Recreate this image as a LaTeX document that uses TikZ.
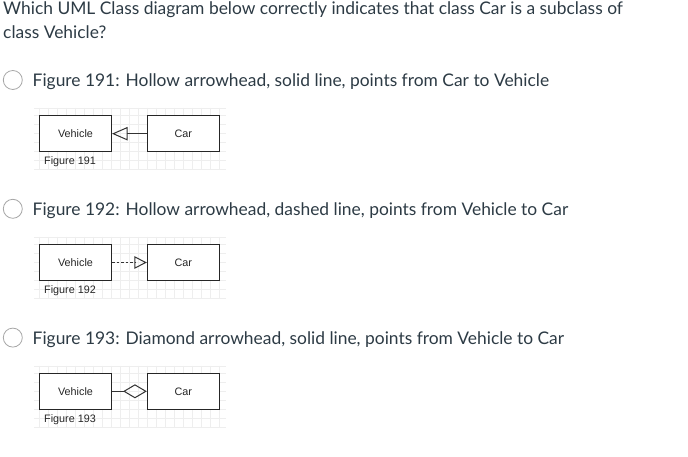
\documentclass[tikz,border=0pt]{standalone}
\usepackage{fontspec}
\setmainfont{Lato}
\newfontfamily\arialfont{Liberation Sans}
\usetikzlibrary{arrows.meta}
\definecolor{canvastext}{HTML}{2D3B45}
\begin{document}
\begin{tikzpicture}[x=1pt,y=-1pt,
  qtext/.style={anchor=base west,inner sep=0,text=canvastext,font=\fontsize{17.4}{20}\selectfont},
  radio/.style={circle,draw=gray!70,line width=0.8pt,minimum size=19pt,inner sep=0},
  umlbox/.style={draw=black!85,line width=1pt,minimum width=72pt,minimum height=36pt,inner sep=0,font=\arialfont\fontsize{10.8}{12}\selectfont,text=black!85,fill=white},
  figlabel/.style={anchor=west,inner sep=0,font=\arialfont\fontsize{10.8}{12}\selectfont,text=black!85},
  gridln/.style={draw=gray!13,line width=0.6pt},
  conn/.style={draw=black!80,line width=1pt}
]
\useasboundingbox (0,0) rectangle (688,457);
\fill[white] (0,0) rectangle (688,457);
\node[qtext] (q1) at (3,15) {Which UML Class diagram below correctly indicates that class Car is a subclass of};
\node[qtext] (q2) at (3,38.5) {class Vehicle?};
\foreach \i/\oy/\txt in {1/0/{Figure 191: Hollow arrowhead, solid line, points from Car to Vehicle},
                         2/128.8/{Figure 192: Hollow arrowhead, dashed line, points from Vehicle to Car},
                         3/257.6/{Figure 193: Diamond arrowhead, solid line, points from Vehicle to Car}}{
  \node[radio] (r\i) at (12.8,80+\oy) {};
  \node[qtext] (o\i) at (32.5,87+\oy) {\txt};
  \begin{scope}[yshift=-\oy pt]
    \foreach \gx in {39.5,48.5,...,224}{\draw[gridln] (\gx,108) -- (\gx,170);}
    \foreach \gy in {115.7,124.7,...,170}{\draw[gridln] (34,\gy) -- (226,\gy);}
    \draw[gridln] (34,108.2) -- (226,108.2);
  \end{scope}
  \node[umlbox] (v\i) at (75.5,133.7+\oy) {Vehicle};
  \node[umlbox] (c\i) at (183.3,133.7+\oy) {Car};
  \node[figlabel] (f\i) at (44,162+\oy) {Figure 19\i};
}
\draw[conn,-{Triangle[open,length=15.6pt,width=13.4pt,line width=1pt]}] (c1.west) -- (v1.east);
\draw[conn,dashed,dash pattern=on 2.5pt off 2pt,-{Triangle[open,length=12.5pt,width=12.6pt,line width=1pt]}] (v2.east) -- (c2.west);
\draw[conn,-{Diamond[open,length=23.7pt,width=14pt,line width=1pt]}] (v3.east) -- (c3.west);
\end{tikzpicture}
\end{document}
